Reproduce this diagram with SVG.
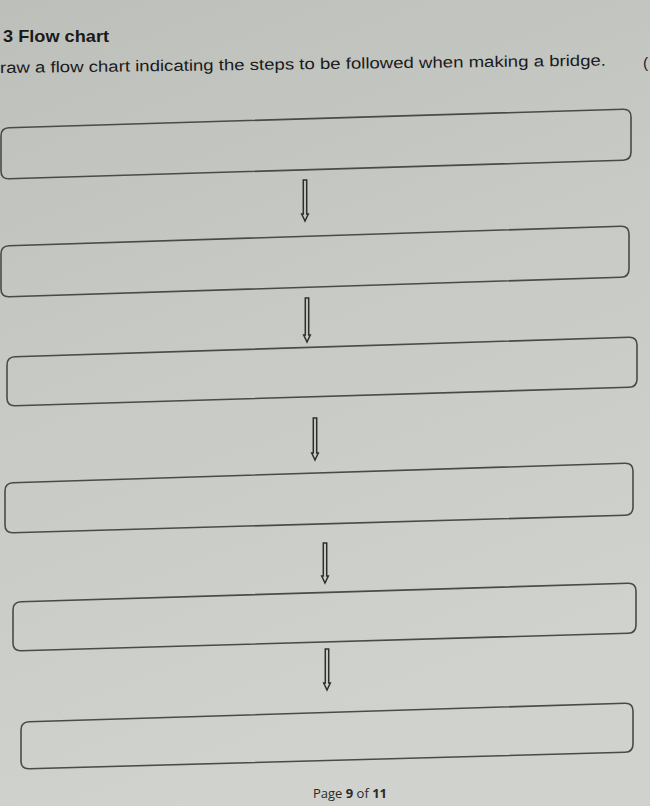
<svg xmlns="http://www.w3.org/2000/svg" width="650" height="806" viewBox="0 0 650 806">
  <defs>
    <linearGradient id="paper" x1="0" y1="0" x2="0.3" y2="1">
      <stop offset="0" stop-color="#bdbfbb"/>
      <stop offset="0.5" stop-color="#c8cac6"/>
      <stop offset="1" stop-color="#d0d2ce"/>
    </linearGradient>
    <style>
      .box { fill: none; stroke: #4a4a4a; stroke-width: 1.6; stroke-linejoin: round; }
      .arrow { fill: none; stroke: #2e2e2e; stroke-width: 1.5; stroke-linejoin: miter; }
      .title { font-family: "Liberation Sans", Arial, sans-serif; font-weight: bold; font-size: 17px; fill: #1a1a1a; }
      .instr { font-family: "Liberation Sans", Arial, sans-serif; font-size: 15.5px; fill: #1a1a1a; }
      .footer { font-family: "Open Sans", "Noto Sans", sans-serif; font-size: 13px; fill: #2a2a2a; }
    </style>
  </defs>

  <rect x="0" y="0" width="650" height="806" fill="url(#paper)"/>

  <g id="heading">
    <text class="title" x="3" y="42" textLength="106" lengthAdjust="spacingAndGlyphs">3 Flow chart</text>
    <text class="instr" x="0" y="73" textLength="606" lengthAdjust="spacingAndGlyphs" transform="rotate(-0.7 0 73)">raw a flow chart indicating the steps to be followed when making a bridge.</text>
    <text class="instr" x="643" y="68">(</text>
  </g>

  <g id="step1"><path class="box" d="M 9,127.8 L 623,109.2 Q 631,109 631,117 L 631,152 Q 631,160 623,160.2 L 9,178.8 Q 1,179 1,171 L 1,136 Q 1,128 9,127.8 Z"/></g>
  <g id="step2"><path class="box" d="M 9,245.75 L 621,226.25 Q 629,226 629,234 L 629,269 Q 629,277 621,277.25 L 9,296.75 Q 1,297 1,289 L 1,254 Q 1,246 9,245.75 Z"/></g>
  <g id="step3"><path class="box" d="M 15,356.75 L 629,337.25 Q 637,337 637,345 L 637,379 Q 637,387 629,387.25 L 15,405.75 Q 7,406 7,398 L 7,365 Q 7,357 15,356.75 Z"/></g>
  <g id="step4"><path class="box" d="M 13,482.75 L 625,463.25 Q 633,463 633,471 L 633,507 Q 633,515 625,515.25 L 13,532.75 Q 5,533 5,525 L 5,491 Q 5,483 13,482.75 Z"/></g>
  <g id="step5"><path class="box" d="M 21,601.75 L 628,583.25 Q 636,583 636,591 L 636,625 Q 636,633 628,633.25 L 21,650.75 Q 13,651 13,643 L 13,610 Q 13,602 21,601.75 Z"/></g>
  <g id="step6"><path class="box" d="M 29,721.75 L 625,703.25 Q 633,703 633,711 L 633,744 Q 633,752 625,752.25 L 29,768.75 Q 21,769 21,761 L 21,730 Q 21,722 29,721.75 Z"/></g>

  <g id="connectors">
    <path class="arrow" d="M 303.3,180 L 306.7,180 L 306.7,214 L 308.3,214 L 305,221 L 301.7,214 L 303.3,214 Z"/>
    <path class="arrow" d="M 305.3,298 L 308.7,298 L 308.7,335 L 310.3,335 L 307,342 L 303.7,335 L 305.3,335 Z"/>
    <path class="arrow" d="M 313.3,418 L 316.7,418 L 316.7,453 L 318.3,453 L 315,460 L 311.7,453 L 313.3,453 Z"/>
    <path class="arrow" d="M 323.3,543 L 326.7,543 L 326.7,576 L 328.3,576 L 325,583 L 321.7,576 L 323.3,576 Z"/>
    <path class="arrow" d="M 325.3,649 L 328.7,649 L 328.7,683 L 330.3,683 L 327,690 L 323.7,683 L 325.3,683 Z"/>
  </g>

  <g id="footer">
    <text class="footer" x="313" y="798">Page <tspan font-weight="bold">9</tspan> of <tspan font-weight="bold">11</tspan></text>
  </g>
</svg>
